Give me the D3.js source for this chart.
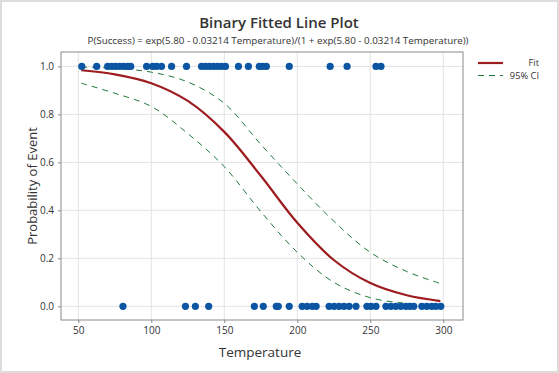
<!DOCTYPE html>
<html lang="en">
<head>
<meta charset="UTF-8">
<title>Binary Fitted Line Plot</title>
<script src="https://d3js.org/d3.v7.min.js"></script>
<style>
  body { margin: 0; background: #fff; }
  svg { display: block; font-family: "Open Sans", "Noto Sans", sans-serif; }
</style>
</head>
<body>
<svg width="559" height="373"></svg>
<script>
let successTemps = [52.4, 62.6, 70.1, 72.9, 75.6, 78.3, 81, 83.8, 85.9, 96.8, 100.9, 103.6, 107,
    113.9, 124.1, 134.4, 137.1, 139.8, 142.6, 145.3, 148, 150.8, 159.7, 166.5, 174, 176.2, 178.8,
    194.5, 222.5, 234.1, 253.9, 257.3]
let failTemps = [80.6, 123.4, 130.2, 139.3, 170.6, 176.7, 185.6, 187, 194.5, 203.3, 206.7, 210.2,
    212.9, 221.8, 225.2, 228.6, 232, 235.5, 240.2, 247.7, 250.5, 253.9, 260.7, 264.1, 267.5, 270.9,
    274.4, 277.1, 279.8, 285.3, 288.7, 292.1, 294.9, 298.3]

// fitted probability and 95% CI, read at these temperatures
let curveTemps = [52, 75, 100, 125, 150, 175, 200, 225, 250, 275, 298]
let fitProb    = [0.984, 0.967, 0.930, 0.856, 0.727, 0.544, 0.348, 0.193, 0.097, 0.046, 0.022]
let upperCI    = [0.997, 0.992, 0.976, 0.935, 0.846, 0.675, 0.510, 0.355, 0.225, 0.145, 0.095]
let lowerCI    = [0.930, 0.888, 0.833, 0.720, 0.582, 0.395, 0.225, 0.100, 0.036, 0.012, 0.004]

let xTicks = [50, 100, 150, 200, 250, 300]
let yTicks = [0, 0.2, 0.4, 0.6, 0.8, 1.0]

let svg = d3.select('svg')
let pLeft = 61, pRight = 463, pTop = 52, pBottom = 320

let x = d3.scaleLinear().domain([38.15, 313.5]).range([pLeft, pRight])
let y = d3.scaleLinear().domain([-0.057, 1.06]).range([pBottom, pTop])

// outer border
svg.append('rect')
    .attr('x', 1).attr('y', 1).attr('width', 557).attr('height', 371)
    .attr('fill', '#fff').attr('stroke', '#dcdcdc').attr('stroke-width', 2)

// grid
svg.append('g').selectAll('line').data(xTicks).join('line')
    .attr('x1', d => x(d)).attr('x2', d => x(d))
    .attr('y1', pTop).attr('y2', pBottom)
    .attr('stroke', '#e3e3e3')
svg.append('g').selectAll('line').data(yTicks).join('line')
    .attr('x1', pLeft).attr('x2', pRight)
    .attr('y1', d => y(d)).attr('y2', d => y(d))
    .attr('stroke', '#e3e3e3')

// axes
let xAxis = svg.append('g')
    .attr('transform', `translate(0,${pBottom})`)
    .call(d3.axisBottom(x).tickValues(xTicks).tickSize(3).tickSizeOuter(0).tickPadding(4))
let yAxis = svg.append('g')
    .attr('transform', `translate(${pLeft},0)`)
    .call(d3.axisLeft(y).tickValues(yTicks).tickFormat(d3.format('.1f')).tickSize(3).tickSizeOuter(0).tickPadding(4))
;[xAxis, yAxis].forEach(a => {
    a.select('.domain').remove()
    a.selectAll('.tick line').attr('stroke', '#888')
    a.selectAll('.tick text').attr('fill', '#333').style('font-size', '10px')
        .style('font-family', '"Open Sans", sans-serif')
})

// frame
svg.append('rect')
    .attr('x', pLeft).attr('y', pTop).attr('width', pRight - pLeft).attr('height', pBottom - pTop)
    .attr('fill', 'none').attr('stroke', '#8a8a8a')

// CI and fit lines
let pts = vals => curveTemps.map((t, i) => [t, vals[i]])
let line = d3.line().x(d => x(d[0])).y(d => y(d[1])).curve(d3.curveCatmullRom)

;[upperCI, lowerCI].forEach(ci => {
    svg.append('path')
        .attr('d', line(pts(ci)))
        .attr('fill', 'none').attr('stroke', '#1f7a3c')
        .attr('stroke-width', 1).attr('stroke-dasharray', '6,5')
})

svg.append('path')
    .attr('d', line(pts(fitProb)))
    .attr('fill', 'none').attr('stroke', '#9c1c1f').attr('stroke-width', 2.2)

// observations
let obs = successTemps.map(t => [t, 1]).concat(failTemps.map(t => [t, 0]))
svg.append('g').selectAll('circle').data(obs).join('circle')
    .attr('cx', d => x(d[0])).attr('cy', d => y(d[1])).attr('r', 3.6)
    .attr('fill', '#0b55a3')

// titles
svg.append('text')
    .attr('x', 279).attr('y', 28).attr('text-anchor', 'middle')
    .attr('fill', '#333').style('font-size', '15px').style('font-weight', 600)
    .text('Binary Fitted Line Plot')
svg.append('text')
    .attr('x', 278).attr('y', 44).attr('text-anchor', 'middle')
    .attr('fill', '#333').style('font-size', '9.8px')
    .text('P(Success) = exp(5.80 - 0.03214 Temperature)/(1 + exp(5.80 - 0.03214 Temperature))')
svg.append('text')
    .attr('x', 260).attr('y', 357).attr('text-anchor', 'middle')
    .attr('fill', '#333').style('font-size', '13.5px')
    .text('Temperature')
svg.append('text')
    .attr('transform', `translate(37,${(pTop + pBottom) / 2}) rotate(-90)`)
    .attr('text-anchor', 'middle')
    .attr('fill', '#333').style('font-size', '13px')
    .text('Probability of Event')

// legend
let legend = [
    {label: 'Fit', color: '#9c1c1f', width: 2.2, dash: null},
    {label: '95% CI', color: '#1f7a3c', width: 1, dash: '6,5'}
]
let lg = svg.append('g').selectAll('g').data(legend).join('g')
    .attr('transform', (d, i) => `translate(0,${63 + i * 12.5})`)
lg.append('line')
    .attr('x1', 478).attr('x2', 503)
    .attr('stroke', d => d.color).attr('stroke-width', d => d.width)
    .attr('stroke-dasharray', d => d.dash)
lg.append('text')
    .attr('x', 539).attr('y', 3.3).attr('text-anchor', 'end')
    .attr('fill', '#333').style('font-size', '9.3px')
    .text(d => d.label)
</script>
</body>
</html>
